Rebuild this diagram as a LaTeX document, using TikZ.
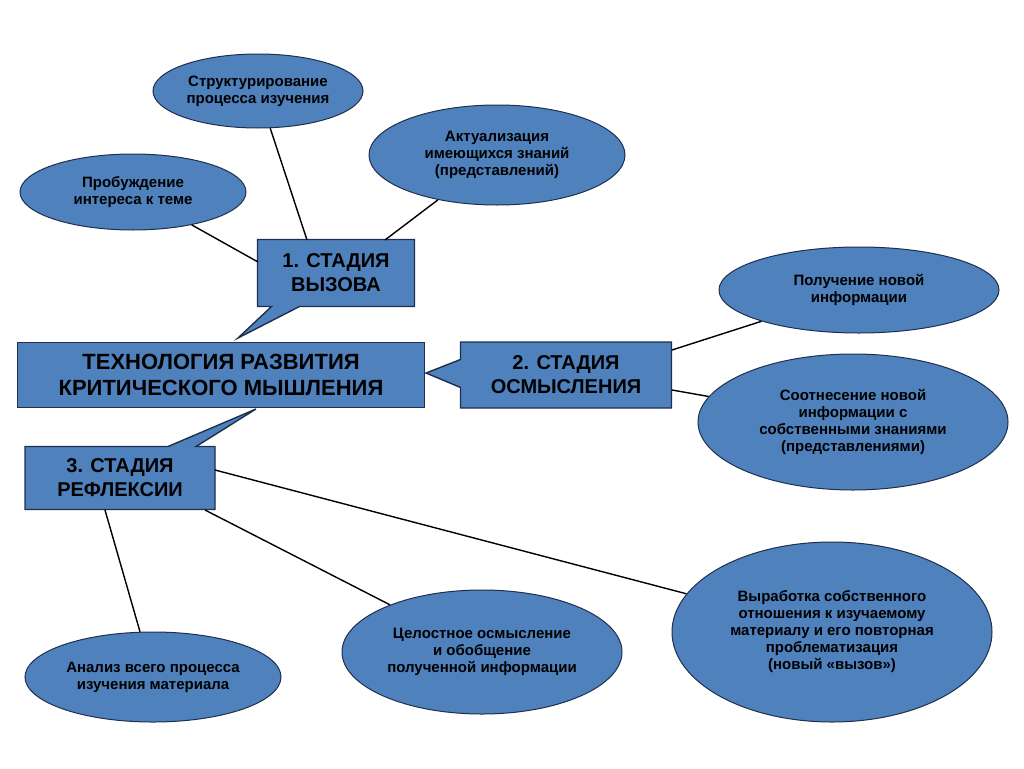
\documentclass[tikz,border=0pt]{standalone}
\usepackage{fontspec}
\setmainfont{Liberation Sans}
\usetikzlibrary{shapes.geometric,shapes.callouts}
\definecolor{stagefill}{HTML}{4F81BD}
\definecolor{stageline}{HTML}{1F2F4F}
\tikzset{
  idea/.style={ellipse,draw=stageline,fill=stagefill,line width=1pt,font=\bfseries\fontsize{15}{17}\selectfont,align=center,inner sep=0pt},
  stagebox/.style={rectangle callout,draw=stageline,fill=stagefill,line width=1.4pt,font=\bfseries\fontsize{20}{24}\selectfont,align=center,callout pointer width=28pt},
  link/.style={line width=1.4pt}
}
\begin{document}
\begin{tikzpicture}[x=1pt,y=-1pt]
 \useasboundingbox (0,0) rectangle (1024,768);

 \node[stagebox,minimum width=407pt,minimum height=65pt,font=\bfseries\fontsize{22}{26}\selectfont,callout absolute pointer={(0,0)},rectangle] (main) at (221,375) {ТЕХНОЛОГИЯ РАЗВИТИЯ\\КРИТИЧЕСКОГО МЫШЛЕНИЯ};
 \node[stagebox,minimum width=157pt,minimum height=67pt,callout absolute pointer={(238,338)}] (s1) at (336,273) {1. СТАДИЯ\\ВЫЗОВА};
 \node[stagebox,minimum width=211pt,minimum height=66pt,callout absolute pointer={(426,373)}] (s2) at (566,375) {2. СТАДИЯ\\ОСМЫСЛЕНИЯ};
 \node[stagebox,minimum width=190pt,minimum height=63pt,callout absolute pointer={(256,409)}] (s3) at (120,478) {3. СТАДИЯ\\РЕФЛЕКСИИ};

 \node[idea,minimum width=210pt,minimum height=74pt] (e1) at (258,91) {Структурирование\\процесса изучения};
 \node[idea,minimum width=256pt,minimum height=100pt] (e2) at (497,155) {Актуализация\\имеющихся знаний\\(представлений)};
 \node[idea,minimum width=226pt,minimum height=76pt] (e3) at (133,192) {Пробуждение\\интереса к теме};
 \node[idea,minimum width=280pt,minimum height=86pt] (e4) at (859,290) {Получение новой\\информации};
 \node[idea,minimum width=310pt,minimum height=136pt] (e5) at (853,422) {Соотнесение новой\\информации с\\собственными знаниями\\(представлениями)};
 \node[idea,minimum width=256pt,minimum height=90pt] (e6) at (153,677) {Анализ всего процесса\\изучения материала};
 \node[idea,minimum width=280pt,minimum height=124pt] (e7) at (482,652) {Целостное осмысление\\и обобщение\\полученной информации};
 \node[idea,minimum width=320pt,minimum height=180pt] (e8) at (832,632) {Выработка собственного\\отношения к изучаемому\\материалу и его повторная\\проблематизация\\(новый «вызов»)};

 \coordinate (c1) at (258,262);
 \coordinate (c2) at (307,240);
 \coordinate (c3) at (385,240);
 \coordinate (c4) at (672,350);
 \coordinate (c5) at (672,390);
 \coordinate (c6) at (105,510);
 \coordinate (c7) at (205,510);
 \coordinate (c8) at (215,470);

 \draw[link] (e3) -- (c1);
 \draw[link] (e1) -- (c2);
 \draw[link] (e2) -- (c3);
 \draw[link] (c4) -- (e4);
 \draw[link] (c5) -- (e5);
 \draw[link] (c6) -- (e6);
 \draw[link] (c7) -- (e7);
 \draw[link] (c8) -- (e8);
\end{tikzpicture}
\end{document}
